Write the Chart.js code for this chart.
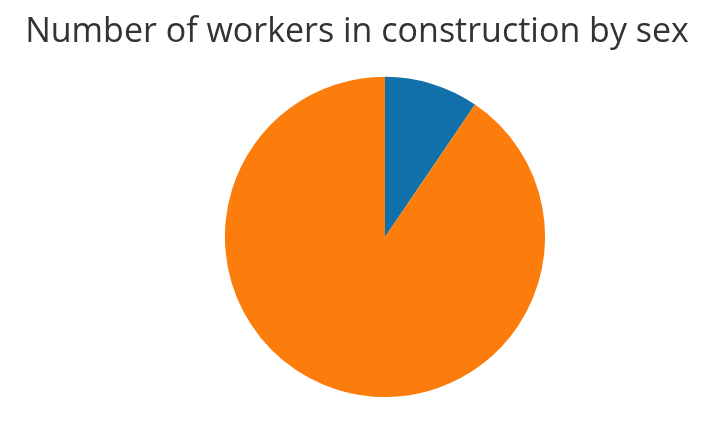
<!DOCTYPE html>
<html>
<head>
<meta charset="utf-8">
<script src="https://cdn.jsdelivr.net/npm/chart.js@4"></script>
<style>
  html, body { margin: 0; padding: 0; background: #fff; }
  #wrap { width: 728px; height: 424px; }
</style>
</head>
<body>
<div id="wrap"><canvas id="grafico"></canvas></div>
<script>
// Datos
const categories = ['Women', 'Men'];
const workers = [9.5, 90.5]; // share of workers (%)
const colors = ['#1170aa', '#fc7d0b'];

const ctx = document.getElementById('grafico').getContext('2d');

// push the pie a bit to the right of the title's centre
const shiftPie = {
  id: 'shiftPie',
  afterLayout(chart) {
    chart.chartArea.left += 56;
    chart.chartArea.width = chart.chartArea.right - chart.chartArea.left;
  }
};

const myChart = new Chart(ctx, {
  type: 'pie',
  data: {
    labels: categories,
    datasets: [{
      data: workers,
      backgroundColor: colors,
      borderWidth: 0
    }]
  },
  options: {
    responsive: true,
    maintainAspectRatio: false,
    animation: false,
    layout: {
      padding: { left: 0, right: 14, top: 0, bottom: 27 }
    },
    plugins: {
      legend: { display: false },
      tooltip: { enabled: false },
      title: {
        display: true,
        text: 'Number of workers in construction by sex',
        color: '#333333',
        font: { family: 'Open Sans', size: 34, weight: 'normal' },
        padding: { top: 12, bottom: 24 }
      }
    }
  },
  plugins: [shiftPie]
});
</script>
</body>
</html>
